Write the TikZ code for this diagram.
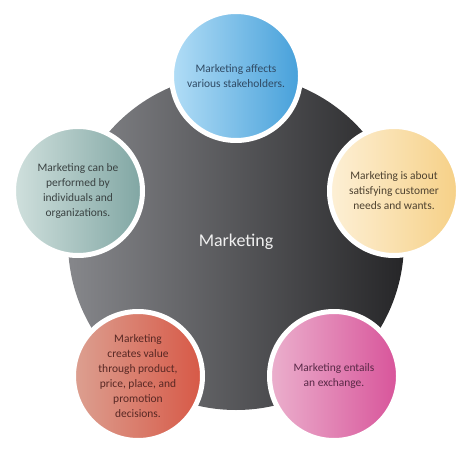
\documentclass[tikz,border=0pt]{standalone}
\usepackage{fontspec}
\setmainfont{Carlito}
\usepackage{tikz}

\definecolor{coreL}{RGB}{134,135,139}
\definecolor{coreR}{RGB}{38,38,40}
\definecolor{blueL}{RGB}{178,221,246}
\definecolor{blueR}{RGB}{70,160,218}
\definecolor{blueT}{RGB}{48,74,100}
\definecolor{sandL}{RGB}{253,240,214}
\definecolor{sandR}{RGB}{246,208,134}
\definecolor{sandT}{RGB}{78,66,48}
\definecolor{tealL}{RGB}{208,224,221}
\definecolor{tealR}{RGB}{128,166,163}
\definecolor{tealT}{RGB}{58,66,66}
\definecolor{brickL}{RGB}{220,160,145}
\definecolor{brickR}{RGB}{215,88,70}
\definecolor{brickT}{RGB}{88,40,36}
\definecolor{roseL}{RGB}{235,176,205}
\definecolor{roseR}{RGB}{216,84,154}
\definecolor{roseT}{RGB}{88,40,70}

\begin{document}
\begin{tikzpicture}[x=1bp,y=-1bp,
    topic/.style={shape=circle,draw=white,line width=5bp,minimum size=129bp,inner sep=0pt,align=center,font=\fontsize{11.5}{15}\selectfont},
    core/.style={shape=circle,minimum size=336bp,inner sep=0pt,left color=coreL,right color=coreR,text=white!94!black,font=\fontsize{18}{20}\selectfont}]
    \useasboundingbox (0,0) rectangle (474,457);

    \node[core] (mkt) at (236,242) {Marketing};

    \node[topic,left color=blueL,right color=blueR,text=blueT] (stake) at (236,76) {Marketing affects\\various stakeholders.};
    \node[topic,left color=sandL,right color=sandR,text=sandT] (needs) at (394,191) {Marketing is about\\satisfying customer\\needs and wants.};
    \node[topic,left color=roseL,right color=roseR,text=roseT] (exch) at (334,376) {Marketing entails\\an exchange.};
    \node[topic,left color=brickL,right color=brickR,text=brickT] (value) at (138,376) {Marketing\\creates value\\through product,\\price, place, and\\promotion\\decisions.};
    \node[topic,left color=tealL,right color=tealR,text=tealT] (who) at (78,191) {Marketing can be\\performed by\\individuals and\\organizations.};

\end{tikzpicture}
\end{document}
